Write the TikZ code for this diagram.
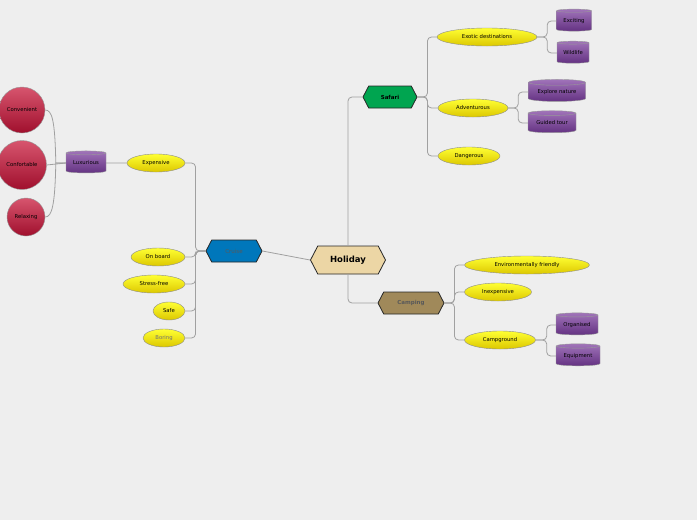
\documentclass[tikz,border=0pt]{standalone}
\usepackage{fontspec}
\setmainfont{DejaVu Sans}
\usetikzlibrary{shapes.geometric,shapes.symbols}
\definecolor{bg}{HTML}{EEEEEE}
\definecolor{conncol}{HTML}{A0A0A0}
\tikzset{
 every node/.style={font=\fontsize{5.3}{6}\selectfont, inner sep=0pt},
 hexa/.style={signal, signal to=east and west, signal pointer angle=125, draw=black!85, line width=0.8pt, minimum height=22pt},
 yel/.style={ellipse, draw=black!45, line width=0.4pt, top color=yellow!80!white, bottom color={rgb,255:red,220;green,200;blue,0}, minimum height=18pt},
 cyl/.style={cylinder, shape border rotate=90, aspect=0.15, draw=black!40, line width=0.4pt, top color={rgb,255:red,160;green,115;blue,185}, bottom color={rgb,255:red,100;green,50;blue,130}, minimum height=22pt},
 redc/.style={circle, draw=black!40, line width=0.4pt, top color={rgb,255:red,215;green,85;blue,110}, bottom color={rgb,255:red,160;green,15;blue,45}},
 conn/.style={draw=conncol, line width=0.8pt, rounded corners=4pt},
}
\begin{document}
\begin{tikzpicture}[x=1pt,y=-1pt]
\fill[bg] (0,0) rectangle (697,520);
\useasboundingbox (0,0) rectangle (697,520);
% main
\node[hexa, minimum width=75pt, minimum height=28pt, fill={rgb,255:red,236;green,214;blue,165}, font=\fontsize{8.5}{10}\selectfont\bfseries] (hol) at (348,260) {Holiday};
\node[hexa, minimum width=54pt, fill={rgb,255:red,0;green,165;blue,80}, font=\fontsize{5.5}{6}\selectfont\bfseries] (saf) at (390,97) {Safari};
\node[hexa, minimum width=66pt, fill={rgb,255:red,160;green,137;blue,90}, text=black!65, font=\fontsize{5.5}{6}\selectfont\bfseries] (cam) at (411,303) {Camping};
\node[hexa, minimum width=56pt, fill={rgb,255:red,0;green,119;blue,187}, text=black!65, font=\fontsize{5.5}{6}\selectfont] (cru) at (234,251) {Cruise};
% safari
\node[yel, minimum width=100pt] (exo) at (487,37) {Exotic destinations};
\node[yel, minimum width=70pt] (adv) at (473,108) {Adventurous};
\node[yel, minimum width=62pt] (dan) at (469,156) {Dangerous};
\node[cyl, minimum width=35pt] (exc) at (574,21) {Exciting};
\node[cyl, minimum width=32pt] (wil) at (573,53) {Wildlife};
\node[cyl, minimum width=57pt] (explo) at (557,92) {Explore nature};
\node[cyl, minimum width=48pt] (gui) at (552,123) {Guided tour};
% camping
\node[yel, minimum width=125pt] (env) at (527,265) {Environmentally friendly};
\node[yel, minimum width=67pt] (ine) at (498,292) {Inexpensive};
\node[yel, minimum width=71pt] (cg) at (500,340) {Campground};
\node[cyl, minimum width=42pt] (org) at (577,325) {Organised};
\node[cyl, minimum width=44pt] (equ) at (578,356) {Equipment};
% cruise
\node[yel, minimum width=58pt] (expn) at (156,163) {Expensive};
\node[yel, minimum width=54pt] (onb) at (158,257) {On board};
\node[yel, minimum width=62pt] (str) at (154,284) {Stress-free};
\node[yel, minimum width=32pt] (safe) at (169,311) {Safe};
\node[yel, minimum width=42pt, text=black!55] (bor) at (164,338) {Boring};
\node[cyl, minimum width=40pt] (lux) at (86,163) {Luxurious};
\node[redc, minimum size=46pt] (conv) at (22,110) {Convenient};
\node[redc, minimum size=49pt] (conf) at (22,165) {Confortable};
\node[redc, minimum size=38pt] (rel) at (26,217) {Relaxing};
% connectors
\draw[conn] (hol.north) |- (saf.west);
\draw[conn] (hol.south) |- (cam.west);
\draw[conn] (hol.west) -- (cru.east);
\foreach \c in {exo,adv,dan} \draw[conn] (saf.east) -- ++(10,0) |- (\c.west);
\foreach \c in {exc,wil} \draw[conn] (exo.east) -- ++(10,0) |- (\c.west);
\foreach \c in {explo,gui} \draw[conn] (adv.east) -- ++(10,0) |- (\c.west);
\foreach \c in {env,ine,cg} \draw[conn] (cam.east) -- ++(10,0) |- (\c.west);
\foreach \c in {org,equ} \draw[conn] (cg.east) -- ++(11,0) |- (\c.west);
\foreach \c in {expn,onb,str,safe,bor} \draw[conn] (cru.west) -- ++(-10,0) |- (\c.east);
\draw[conn] (expn.west) -- (lux.east);
\draw[conn] (lux.west) -- (conf.east);
\draw[conn, rounded corners=0pt] (lux.west) -- ++(-10,0) .. controls (55,120) and (52,110) .. (conv.east);
\draw[conn, rounded corners=0pt] (lux.west) -- ++(-10,0) .. controls (55,205) and (52,217) .. (rel.east);
\end{tikzpicture}
\end{document}
